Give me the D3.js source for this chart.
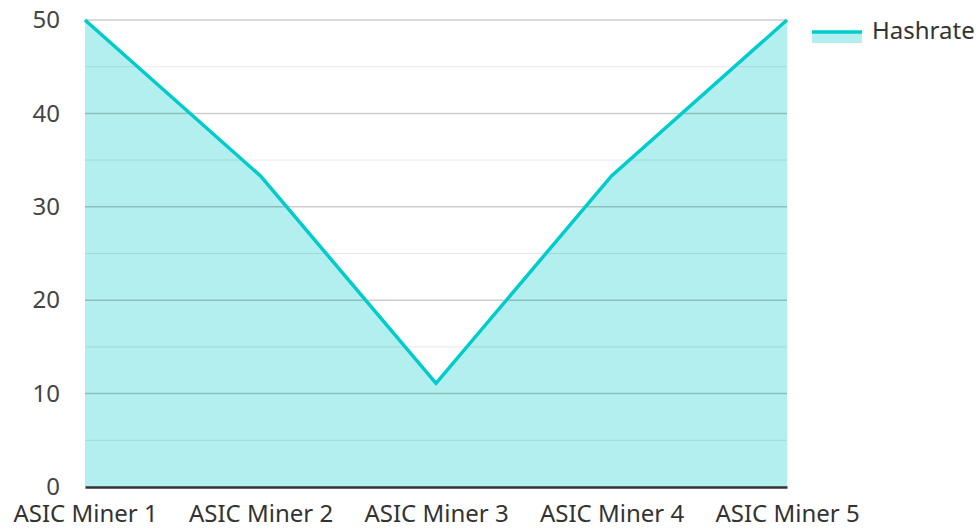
<!DOCTYPE html>
<html>
<head>
<meta charset="utf-8">
<script src="https://cdn.jsdelivr.net/npm/d3@7"></script>
<style>
  body { margin: 0; background: #fff; }
  text { font-family: "Noto Sans", "Open Sans", sans-serif; }
</style>
</head>
<body>
<div id="chart"></div>
<script>
// data
let miners = ["ASIC Miner 1", "ASIC Miner 2", "ASIC Miner 3", "ASIC Miner 4", "ASIC Miner 5"];
let hashrate = [50, 33.3, 11.1, 33.3, 50];
let yTicks = [0, 10, 20, 30, 40, 50];
let seriesName = "Hashrate";

let svgWidth = 979;
let svgHeight = 529;
let margin = { top: 20, right: 192, bottom: 42, left: 85 };
let chartWidth = svgWidth - margin.left - margin.right;
let chartHeight = svgHeight - margin.top - margin.bottom;

let svg = d3.select("#chart").append("svg")
    .attr("width", svgWidth)
    .attr("height", svgHeight);

let chartGroup = svg.append("g")
    .attr("transform", `translate(${margin.left}, ${margin.top})`);

let xScale = d3.scalePoint()
    .domain(miners)
    .range([0, chartWidth]);

let yScale = d3.scaleLinear()
    .domain([0, 50])
    .range([chartHeight, 0]);

let rows = miners.map((m, i) => ({ name: m, value: hashrate[i] }));

// area fill
let area = d3.area()
    .x(d => xScale(d.name))
    .y0(yScale(0))
    .y1(d => yScale(d.value));

chartGroup.append("path")
    .datum(rows)
    .attr("d", area)
    .attr("fill", "#b2efee");

// grid lines (minor at 5s, major at 10s)
let minor = d3.range(5, 50, 10);
chartGroup.append("g").selectAll("line")
    .data(minor)
    .enter().append("line")
    .attr("x1", 0).attr("x2", chartWidth)
    .attr("y1", d => yScale(d)).attr("y2", d => yScale(d))
    .attr("stroke", "#000")
    .attr("stroke-opacity", 0.09)
    .attr("stroke-width", 1);

chartGroup.append("g").selectAll("line")
    .data(yTicks.filter(d => d > 0))
    .enter().append("line")
    .attr("x1", 0).attr("x2", chartWidth)
    .attr("y1", d => yScale(d)).attr("y2", d => yScale(d))
    .attr("stroke", "#000")
    .attr("stroke-opacity", 0.2)
    .attr("stroke-width", 1.5);

// line
let line = d3.line()
    .x(d => xScale(d.name))
    .y(d => yScale(d.value));

chartGroup.append("path")
    .datum(rows)
    .attr("d", line)
    .attr("fill", "none")
    .attr("stroke", "#00cccc")
    .attr("stroke-width", 3.5);

// y axis labels
let yAxis = d3.axisLeft(yScale).tickValues(yTicks).tickSize(0).tickPadding(25);
let yG = chartGroup.append("g").call(yAxis);
yG.select(".domain").remove();
yG.selectAll("text")
    .attr("fill", "#444")
    .attr("font-size", 24)
    .style("font-family", "'Noto Sans', 'Open Sans', sans-serif");

// x axis
let xAxis = d3.axisBottom(xScale).tickSize(0).tickPadding(18);
let xG = chartGroup.append("g")
    .attr("transform", `translate(0, ${chartHeight})`)
    .call(xAxis);
xG.select(".domain")
    .attr("stroke", "#333")
    .attr("stroke-width", 2.5);
xG.selectAll("text")
    .attr("fill", "#333")
    .attr("font-size", 24)
    .style("font-family", "'Noto Sans', 'Open Sans', sans-serif");

// legend
let legend = svg.append("g")
    .attr("transform", `translate(812, 32)`);
legend.append("rect")
    .attr("x", 0).attr("y", 0)
    .attr("width", 50).attr("height", 11)
    .attr("fill", "#b2efee");
legend.append("line")
    .attr("x1", 0).attr("x2", 50)
    .attr("y1", 0).attr("y2", 0)
    .attr("stroke", "#00cccc")
    .attr("stroke-width", 3.5);
legend.append("text")
    .attr("x", 60).attr("y", 7)
    .attr("fill", "#333")
    .attr("font-size", 24)
    .text(seriesName);
</script>
</body>
</html>
